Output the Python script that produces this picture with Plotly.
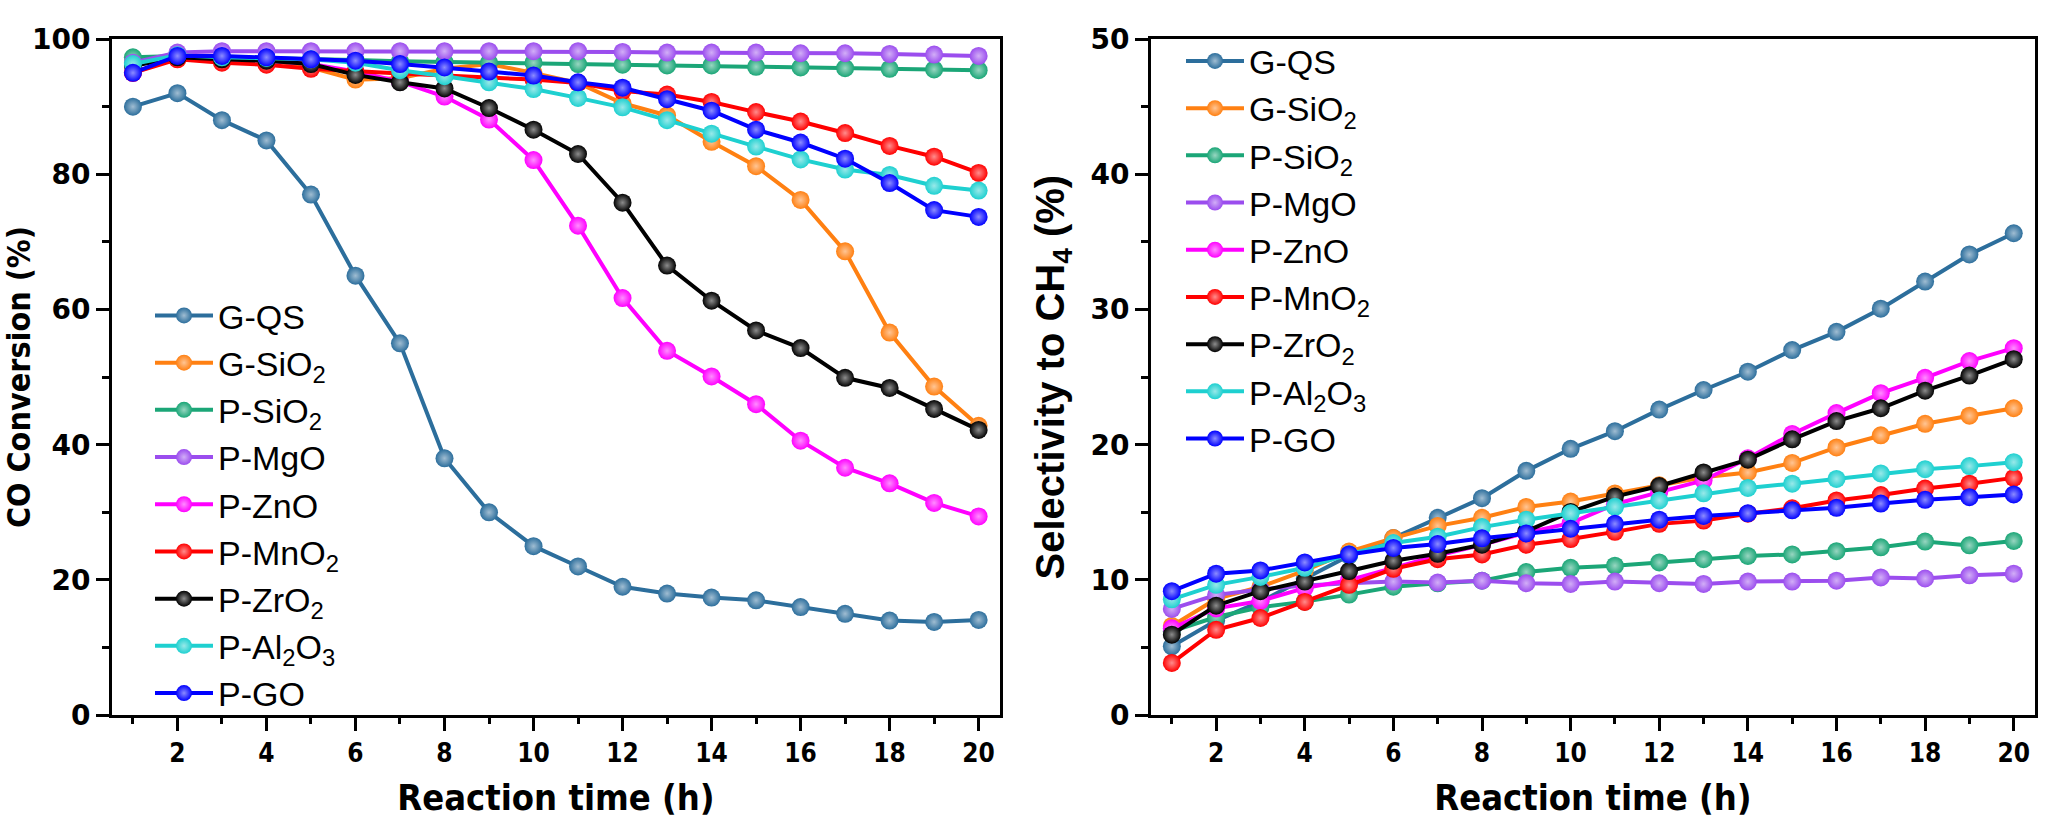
import plotly.graph_objects as go

hours = list(range(1, 21))

names = ["G-QS", "G-SiO<sub>2</sub>", "P-SiO<sub>2</sub>", "P-MgO", "P-ZnO",
         "P-MnO<sub>2</sub>", "P-ZrO<sub>2</sub>", "P-Al<sub>2</sub>O<sub>3</sub>", "P-GO"]
colors = ["#2C6E9C", "#FF8012", "#1BA677", "#9B4DEE", "#FF00FF",
          "#FF0000", "#000000", "#1ED0D0", "#0000FF"]

# CO conversion (%)
conv_GQS = [90, 92, 88, 85, 77, 65, 55, 38, 30, 25, 22, 19, 18, 17.4, 17, 16, 15, 14, 13.8, 14.1]
conv_GSiO2 = [96.5, 97.6, 97.3, 97.0, 95.8, 94.0, 94.2, 95.6, 96.3, 95.0, 93.5, 90.5, 88.7, 84.8, 81.2, 76.2, 68.6, 56.6, 48.6, 42.8]
conv_PSiO2 = [97.3, 97.5, 97.3, 97.2, 97.0, 96.9, 96.7, 96.6, 96.5, 96.5, 96.3, 96.2, 96.1, 96.1, 95.9, 95.8, 95.7, 95.6, 95.5, 95.4]
conv_PMgO = [96.5, 98.0, 98.2, 98.2, 98.2, 98.2, 98.2, 98.2, 98.2, 98.2, 98.2, 98.1, 98.0, 98.0, 98.0, 97.9, 97.9, 97.8, 97.7, 97.5]
conv_PZnO = [95.0, 97.3, 97.0, 96.8, 96.3, 95.2, 93.7, 91.5, 88.1, 82.1, 72.4, 61.7, 53.9, 50.1, 46.0, 40.6, 36.6, 34.3, 31.4, 29.4]
conv_PMnO2 = [95.0, 97.0, 96.5, 96.2, 95.6, 95.2, 94.9, 94.6, 94.3, 94.0, 93.5, 92.3, 91.8, 90.7, 89.2, 87.8, 86.1, 84.2, 82.6, 80.2]
conv_PZrO2 = [96.0, 97.3, 97.0, 96.8, 96.3, 94.7, 93.6, 92.7, 89.8, 86.6, 83.0, 75.8, 66.5, 61.3, 56.9, 54.3, 49.9, 48.4, 45.3, 42.2]
conv_PAl2O3 = [96.3, 97.6, 97.3, 97.2, 97.0, 96.5, 95.4, 94.5, 93.6, 92.6, 91.3, 89.9, 88.0, 86.0, 84.1, 82.2, 80.7, 79.9, 78.3, 77.6]
conv_PGO = [95.0, 97.5, 97.5, 97.3, 97.0, 96.8, 96.3, 95.8, 95.2, 94.6, 93.6, 92.8, 91.1, 89.4, 86.6, 84.7, 82.3, 78.7, 74.7, 73.7]

# Selectivity to CH4 (%)
sel_GQS = [5.1, 7.0, 8.4, 10.1, 11.8, 13.1, 14.6, 16.05, 18.07, 19.7, 21.0, 22.6, 24.05, 25.4, 27.0, 28.35, 30.06, 32.07, 34.07, 35.64]
sel_GSiO2 = [6.6, 8.6, 9.5, 10.7, 12.1, 13.1, 14.0, 14.6, 15.4, 15.8, 16.4, 17.0, 17.6, 17.95, 18.66, 19.8, 20.7, 21.55, 22.15, 22.7]
sel_PSiO2 = [6.2, 7.26, 7.98, 8.4, 8.92, 9.5, 9.75, 9.95, 10.59, 10.9, 11.06, 11.3, 11.54, 11.78, 11.89, 12.13, 12.42, 12.84, 12.56, 12.89]
sel_PMgO = [7.86, 8.9, 9.3, 9.6, 9.75, 9.88, 9.81, 9.95, 9.76, 9.71, 9.88, 9.76, 9.71, 9.88, 9.88, 9.95, 10.19, 10.11, 10.35, 10.47]
sel_PZnO = [6.43, 7.9, 8.45, 9.4, 9.99, 10.9, 11.8, 12.6, 13.5, 14.2, 15.6, 16.5, 17.36, 19.0, 20.8, 22.34, 23.81, 24.95, 26.19, 27.14]
sel_PMnO2 = [3.87, 6.32, 7.19, 8.38, 9.64, 10.83, 11.54, 11.89, 12.61, 13.03, 13.56, 14.15, 14.39, 14.9, 15.3, 15.88, 16.28, 16.76, 17.12, 17.55]
sel_PZrO2 = [5.96, 8.10, 9.17, 9.88, 10.66, 11.42, 11.94, 12.61, 13.6, 15.03, 16.17, 16.95, 17.95, 18.9, 20.4, 21.75, 22.7, 24.0, 25.12, 26.33]
sel_PAl2O3 = [8.57, 9.64, 10.23, 10.9, 11.9, 12.73, 13.2, 13.91, 14.46, 14.93, 15.41, 15.88, 16.41, 16.81, 17.12, 17.47, 17.88, 18.19, 18.42, 18.71]
sel_PGO = [9.17, 10.47, 10.71, 11.30, 11.89, 12.37, 12.66, 13.08, 13.44, 13.79, 14.15, 14.46, 14.74, 14.93, 15.15, 15.34, 15.65, 15.93, 16.12, 16.33]

x_major = [2, 4, 6, 8, 10, 12, 14, 16, 18, 20]
x_labels = [str(v) for v in x_major]
conv_ticks = [0, 20, 40, 60, 80, 100]
sel_ticks = [0, 10, 20, 30, 40, 50]

conv_series = [conv_GQS, conv_GSiO2, conv_PSiO2, conv_PMgO, conv_PZnO,
               conv_PMnO2, conv_PZrO2, conv_PAl2O3, conv_PGO]
sel_series = [sel_GQS, sel_GSiO2, sel_PSiO2, sel_PMgO, sel_PZnO,
              sel_PMnO2, sel_PZrO2, sel_PAl2O3, sel_PGO]


def lighten(hexc, f):
    h = hexc.lstrip("#")
    r, g, b = int(h[0:2], 16), int(h[2:4], 16), int(h[4:6], 16)
    r = int(r + (255 - r) * f)
    g = int(g + (255 - g) * f)
    b = int(b + (255 - b) * f)
    return "#%02X%02X%02X" % (r, g, b)


fig = go.Figure()
for i, (nm, c) in enumerate(zip(names, colors)):
    fig.add_trace(go.Scatter(
        x=hours, y=conv_series[i], name=nm, mode="lines+markers",
        line=dict(color=c, width=4),
        marker=dict(size=18, color=c, line=dict(width=0),
                    gradient=dict(type="radial", color=lighten(c, 0.55))),
        xaxis="x", yaxis="y", legend="legend"))
for i, (nm, c) in enumerate(zip(names, colors)):
    fig.add_trace(go.Scatter(
        x=hours, y=sel_series[i], name=nm, mode="lines+markers",
        line=dict(color=c, width=4),
        marker=dict(size=18, color=c, line=dict(width=0),
                    gradient=dict(type="radial", color=lighten(c, 0.55))),
        xaxis="x2", yaxis="y2", legend="legend2"))

W, H = 2048, 835
ydom = [1 - 728 / H, 1 - 24 / H]

narrow = "Liberation Sans Narrow, Arial Narrow, DejaVu Sans Condensed, DejaVu Sans, sans-serif"
wide = "DejaVu Sans, Arial Black, sans-serif"
arial = "Liberation Sans, Arial, sans-serif"

xcommon = dict(
    range=[0.53, 20.48], showline=True, linewidth=3, linecolor="black", mirror=True,
    ticks="outside", ticklen=13, tickwidth=3, tickcolor="black",
    tickmode="array", tickvals=x_major, ticktext=x_labels,
    tickfont=dict(family=narrow, size=26, color="black", weight="bold"),
    minor=dict(ticks="outside", ticklen=6, tickwidth=3, tickcolor="black", dtick=1, tick0=0),
    showgrid=False, zeroline=False,
    title=dict(text="Reaction time (h)", standoff=18,
               font=dict(family=narrow, size=36, color="black", weight="bold")),
)

legend_common = dict(xanchor="left", yanchor="top", bgcolor="rgba(0,0,0,0)",
                     borderwidth=0, itemwidth=58, tracegroupgap=0,
                     font=dict(family=arial, size=34, color="black"))

fig.update_layout(
    width=W, height=H, margin=dict(l=0, r=0, t=0, b=0),
    paper_bgcolor="white", plot_bgcolor="white",
    xaxis=dict(domain=[112 / W, 1000 / W], anchor="y", **xcommon),
    xaxis2=dict(domain=[1151 / W, 2035 / W], anchor="y2", **xcommon),
    yaxis=dict(
        domain=ydom, anchor="x", range=[0, 100],
        showline=True, linewidth=3, linecolor="black", mirror=True,
        ticks="outside", ticklen=13, tickwidth=3, tickcolor="black",
        tickmode="array", tickvals=conv_ticks, ticktext=[str(v) for v in conv_ticks],
        tickfont=dict(family=wide, size=28, color="black", weight="bold"),
        minor=dict(ticks="outside", ticklen=7, tickwidth=3, tickcolor="black", dtick=10, tick0=0),
        showgrid=False, zeroline=False,
        title=dict(text="CO Conversion (%)", standoff=6,
                   font=dict(family=narrow, size=32, color="black", weight="bold")),
    ),
    yaxis2=dict(
        domain=ydom, anchor="x2", range=[0, 50],
        showline=True, linewidth=3, linecolor="black", mirror=True,
        ticks="outside", ticklen=13, tickwidth=3, tickcolor="black",
        tickmode="array", tickvals=sel_ticks, ticktext=[str(v) for v in sel_ticks],
        tickfont=dict(family=wide, size=28, color="black", weight="bold"),
        minor=dict(ticks="outside", ticklen=7, tickwidth=3, tickcolor="black", dtick=5, tick0=0),
        showgrid=False, zeroline=False,
        title=dict(text="Selectivity to CH<sub>4</sub> (%)", standoff=14,
                   font=dict(family=arial, size=40, color="black", weight="bold")),
    ),
    legend=dict(x=150 / W, y=1 - 282 / H, **legend_common),
    legend2=dict(x=1181 / W, y=1 - 17 / H, **legend_common),
    showlegend=True,
)

fig.write_html("out.html")
